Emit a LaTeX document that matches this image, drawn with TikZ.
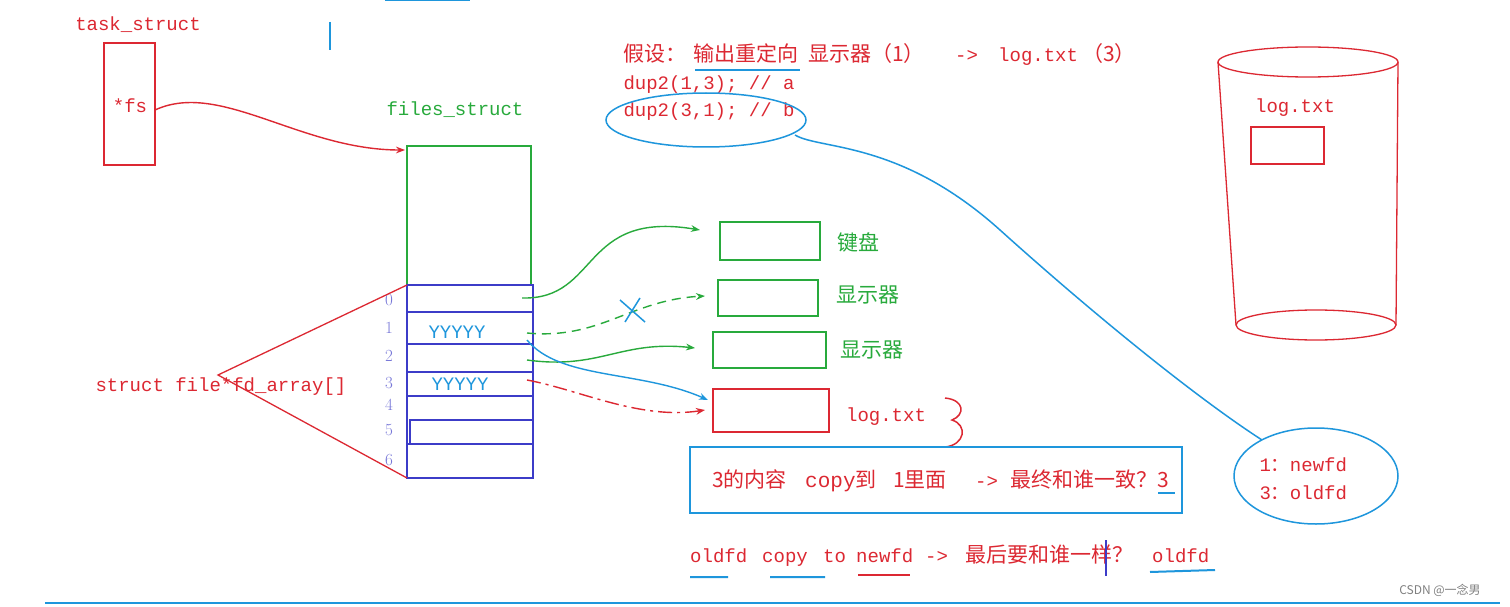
\documentclass[tikz,border=0pt]{standalone}
\usepackage{fontspec}
\setmonofont{Liberation Mono}
\newfontfamily\cjk{Noto Sans CJK SC}
\usetikzlibrary{arrows.meta}
\definecolor{rd}{RGB}{220,40,50}
\definecolor{gr}{RGB}{40,170,60}
\definecolor{bl}{RGB}{30,150,220}
\definecolor{nv}{RGB}{60,60,200}
\begin{document}
\begin{tikzpicture}[x=1pt,y=-1pt,
  mono/.style={font=\ttfamily\fontsize{19}{21}\selectfont},
  cj/.style={font=\cjk\fontsize{21}{24}\selectfont},
  tw/.style={anchor=base west,inner sep=0pt,text=rd},
  rbox/.style={draw=rd,line width=1.3pt},
  gbox/.style={draw=gr,line width=1.3pt},
  arr/.style={-{Stealth[length=9pt]},line width=1.4pt}]
\useasboundingbox (0,0) rectangle (1510,607);
\fill[white] (0,0) rectangle (1510,607);
% top stray marks
\draw[bl,line width=2pt] (385,0) -- (470,0);
\draw[bl,line width=2pt] (330,22) -- (330,50);
% task struct
\node[mono,text=rd] (ts) at (138,25) {task\_struct};
\draw[rbox] (104,43) rectangle (155,165);
\node[mono,text=rd] (fs) at (130,106) {*fs};
\coordinate (fsE) at (155,110);
\coordinate (fsT) at (405,150);
\draw[rd,arr] (fsE) .. controls (220,80) and (300,150) .. (fsT);
% files struct
\node[mono,text=gr] (fst) at (455,110) {files\_struct};
\draw[gbox] (407,146) rectangle (531,285);
\draw[nv,line width=1.3pt] (407,285) rectangle (533,478);
\foreach \y in {312,344,372,396,444} \draw[nv,line width=1.3pt] (407,\y) -- (533,\y);
\draw[nv,line width=1.3pt] (410,420) rectangle (533,444);
\foreach \n/\y in {0/300,1/328,2/356,3/383,4/405,5/430,6/460}
  \node[font=\fontsize{17}{18}\selectfont,text=nv!70] (n\n) at (389,\y) {\n};
\node[mono,text=bl] (y1) at (457,332) {YYYYY};
\node[mono,text=bl] (y3) at (460,384) {YYYYY};
% fd_array
\node[mono,text=rd,anchor=west] (fda) at (92,387) {struct file*fd\_array[]};
\coordinate (fdp) at (218,375);
\draw[rd,line width=1.3pt] (407,285) -- (fdp) -- (407,478);
% devices
\draw[gbox] (720,222) rectangle (820,260);
\node[cj,text=gr] (k) at (858,242) {键盘};
\draw[gbox] (718,280) rectangle (818,316);
\node[cj,text=gr] (d1) at (868,295) {显示器};
\draw[gbox] (713,332) rectangle (826,368);
\node[cj,text=gr] (d2) at (872,350) {显示器};
\draw[rbox] (713,389) rectangle (829,432);
\node[mono,text=rd] (lg) at (886,417) {log.txt};
\draw[rd,line width=1.5pt] (945,398) .. controls (965,400) and (965,415) .. (952,420) .. controls (968,425) and (965,445) .. (945,447);
% arrows
\draw[gr,arr] (522,298) .. controls (600,300) and (580,210) .. (700,230);
\draw[gr,arr,dash pattern=on 9pt off 6pt] (527,333) .. controls (600,340) and (630,300) .. (705,296);
\draw[bl,line width=1.5pt] (620,300) -- (645,322) (625,322) -- (640,298);
\draw[gr,arr] (527,360) .. controls (600,370) and (620,340) .. (695,348);
\draw[bl,arr] (527,340) .. controls (560,380) and (640,370) .. (708,400);
\draw[rd,arr,dash pattern=on 14pt off 5pt on 3pt off 5pt] (527,380) .. controls (580,390) and (640,420) .. (705,410);
% top text
\node[cj,tw] (h1) at (623,62) {假设：};
\node[cj,tw] (h2) at (693,62) {输出重定向};
\node[cj,tw] (h3) at (808,62) {显示器（1）};
\node[mono,tw] (h4) at (955,62) {->};
\node[mono,tw] (h5) at (998,62) {log.txt};
\node[cj,tw] (h6) at (1082,62) {（3）};
\node[mono,text=rd,anchor=west] (a) at (620,85) {dup2(1,3); // a};
\node[mono,text=rd,anchor=west] (b) at (620,112) {dup2(3,1); // b};
\draw[bl,line width=1.5pt] (695,70) -- (800,70);
\draw[bl,line width=1.5pt] (706,120) ellipse (100 and 27);
% cylinder
\draw[rbox] (1308,62) ellipse (90 and 15);
\draw[rbox] (1316,325) ellipse (80 and 15);
\draw[rbox] (1218,62) -- (1236,325) (1398,62) -- (1396,325);
\node[mono,text=rd] (lg2) at (1295,108) {log.txt};
\draw[rbox] (1251,127) rectangle (1324,164);
% newfd ellipse
\draw[bl,line width=1.5pt] (1316,476) ellipse (82 and 48);
\node[mono,text=rd,anchor=west] (nf) at (1256,465) {1{\cjk：}newfd};
\node[mono,text=rd,anchor=west] (of) at (1256,493) {3{\cjk：}oldfd};
\draw[bl,line width=1.5pt] (795,135) .. controls (820,150) and (900,140) .. (1000,230) .. controls (1100,320) and (1200,400) .. (1262,440);
% boxed text
\draw[bl,line width=1.5pt] (690,447) rectangle (1182,513);
\node[cj,tw] (t1) at (712,487) {3的内容};
\node[cj,tw] (t2) at (805,487) {{\ttfamily copy}到};
\node[cj,tw] (t3) at (893,487) {1里面};
\node[mono,tw] (t4) at (975,487) {->};
\node[cj,tw] (t5) at (1010,487) {最终和谁一致？3};
\draw[bl,line width=1.5pt] (1158,493) -- (1175,493);
% bottom
\node[mono,tw] (b1) at (690,562) {oldfd};
\node[mono,tw] (b2) at (762,562) {copy};
\node[mono,tw] (b3) at (823,562) {to};
\node[mono,tw] (b4) at (856,562) {newfd};
\node[mono,tw] (b5) at (925,562) {->};
\node[cj,tw] (b6) at (965,562) {最后要和谁一样？};
\node[mono,tw] (b7) at (1152,562) {oldfd};
\draw[bl,line width=2pt] (690,577) -- (728,577) (770,577) -- (825,577) (1150,572) -- (1215,570);
\draw[rd,line width=1.5pt] (858,575) -- (910,575);
\draw[nv,line width=1.5pt] (1106,540) -- (1106,576);
\draw[bl,line width=2pt] (45,603) -- (1500,603);
\node[font=\cjk\fontsize{12}{14}\selectfont,text=gray] (csdn) at (1440,590) {CSDN @一念男};
\end{tikzpicture}
\end{document}
